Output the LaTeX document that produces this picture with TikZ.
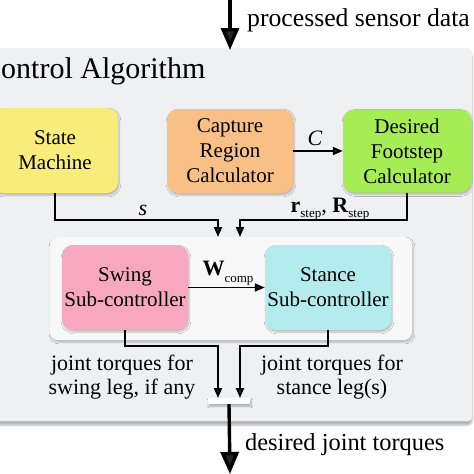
\documentclass[tikz,border=0pt]{standalone}
\usepackage{fontspec}
\setmainfont{Liberation Serif}
\usetikzlibrary{arrows.meta,shadows.blur}
\definecolor{bgGray}{HTML}{EEF0F2}
\definecolor{innerGray}{HTML}{F8F8F8}
\definecolor{cYellow}{HTML}{F8EC7A}
\definecolor{cOrange}{HTML}{F8C087}
\definecolor{cGreen}{HTML}{A6EC55}
\definecolor{cPink}{HTML}{F7A8C0}
\definecolor{cCyan}{HTML}{B4ECEE}
\tikzset{
  blk/.style={rounded corners=11pt, align=center, inner sep=0pt,
    font=\fontsize{21}{25}\selectfont, text=black,
    blur shadow={shadow xshift=1pt, shadow yshift=-2pt, shadow blur steps=6, shadow opacity=25}},
  arr/.style={line width=1.8pt, -{Triangle[length=10pt,width=8pt]}},
  bigarr/.style={line width=3.4pt, -{Triangle[length=22pt,width=18pt]}},
  lbl/.style={font=\fontsize{22}{23.5}\selectfont, align=center, inner sep=0pt},
  biglbl/.style={font=\fontsize{24}{28}\selectfont, inner sep=0pt, anchor=base west},
}
\begin{document}
\begin{tikzpicture}[x=1pt,y=-1pt]
\useasboundingbox (0,0) rectangle (474,474);
% background panel
\fill[bgGray, rounded corners=4pt, blur shadow={shadow xshift=0pt, shadow yshift=-4pt, shadow blur steps=6, shadow opacity=30}] (-20,48) rectangle (472,421);
\node[biglbl, font=\fontsize{30}{32}\selectfont] (title) at (-19,78) {Control Algorithm};
% top blocks
\node[blk, fill=cYellow, minimum width=126pt, minimum height=85pt] (state) at (55,150.5) {State\\Machine};
\node[blk, fill=cOrange, minimum width=126pt, minimum height=84pt] (capture) at (230,151) {Capture\\Region\\Calculator};
\node[blk, fill=cGreen, minimum width=128pt, minimum height=83pt] (desired) at (407,151) {Desired\\Footstep\\Calculator};
% inner panel
\node[fill=innerGray, rounded corners=8pt, minimum width=362pt, minimum height=103pt, inner sep=0pt,
  blur shadow={shadow xshift=1pt, shadow yshift=-2pt, shadow blur steps=6, shadow opacity=25}] (inner) at (231,288.5) {};
\node[blk, fill=cPink, minimum width=126pt, minimum height=85pt] (swing) at (125,287.5) {Swing\\Sub-controller};
\node[blk, fill=cCyan, minimum width=126pt, minimum height=85pt] (stance) at (328,287.5) {Stance\\Sub-controller};
% junction bar
\node[fill=white, minimum width=42pt, minimum height=6pt, inner sep=0pt,
  blur shadow={shadow xshift=1pt, shadow yshift=-2pt, shadow blur steps=4, shadow opacity=30}] (bar) at (229,401) {};
% coordinates
\coordinate (inA) at (218,237);
\coordinate (inB) at (240,237);
\coordinate (barA) at (218,398);
\coordinate (barB) at (240,398);
\coordinate (topin) at (230,-2);
\coordinate (panelTop) at (230,50);
\coordinate (botout) at (230,474);
% connectors
\draw[bigarr] (topin) -- (panelTop);
\draw[arr] (capture.east) -- (desired.west);
\draw[arr] (state.south) |- ([yshift=17pt]inA) -- (inA);
\draw[arr] (desired.south) |- ([yshift=17pt]inB) -- (inB);
\draw[arr] (swing.east) -- (stance.west);
\draw[arr] (swing.south) |- ([yshift=52pt]barA) -- (barA);
\draw[arr] (stance.south) |- ([yshift=52pt]barB) -- (barB);
\draw[bigarr] (bar.south) -- (botout);
% labels
\node[biglbl, font=\fontsize{25.7}{28}\selectfont] (lsensor) at (247,26) {processed sensor data};
\node[biglbl, font=\fontsize{24.4}{28}\selectfont] (ldesired) at (245,450) {desired joint torques};
\node[lbl, anchor=base] (lC) at (315,145) {\itshape C};
\node[lbl, anchor=base] (ls) at (143,215) {\itshape s};
\node[lbl, anchor=base] (lr) at (330,212) {\textbf{r}\raisebox{-5pt}{\fontsize{13}{13}\selectfont step}, \textbf{R}\raisebox{-5pt}{\fontsize{13}{13}\selectfont step}};
\node[lbl, anchor=base] (lW) at (228,275) {\textbf{W}\raisebox{-7pt}{\fontsize{13}{13}\selectfont comp}};
\node[lbl] (lswing) at (122,377) {joint torques for\\swing leg, if any};
\node[lbl] (lstance) at (332,377) {joint torques for\\stance leg(s)};
\end{tikzpicture}
\end{document}
